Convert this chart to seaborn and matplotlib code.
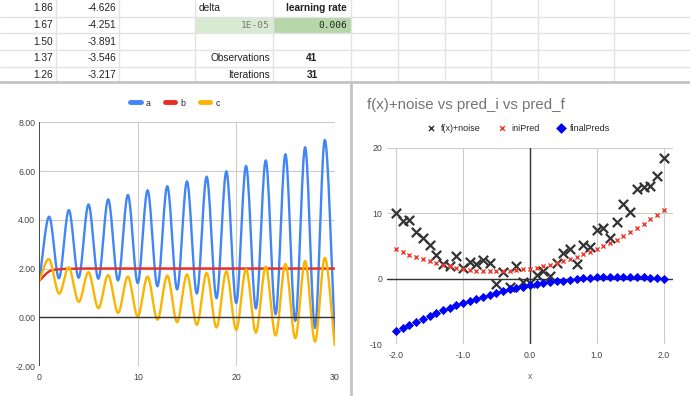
import numpy as np
import pandas as pd
import matplotlib
matplotlib.use('Agg')
import matplotlib.pyplot as plt
import seaborn as sns

# ---- sheet cells ----
col_x = ['1.86', '1.67', '1.50', '1.37', '1.26']
col_y = ['-4.626', '-4.251', '-3.891', '-3.546', '-3.217']
delta = '1E-05'
learning_rate = '0.006'
observations = '41'
iterations = '31'

# ---- left chart: a, b, c per iteration ----
iters = np.arange(31)
a = [1.50, 4.13, 1.60, 4.40, 1.62, 4.63, 1.58, 4.84, 1.51, 5.02, 1.40, 5.21, 1.27, 5.38, 1.14,
     5.58, 0.97, 5.77, 0.78, 5.99, 0.58, 6.21, 0.36, 6.44, 0.12, 6.69, -0.15, 6.98, -0.44, 7.28, -0.72]
b = [1.50, 1.88, 1.97, 1.99, 2.00, 2.00, 2.00, 2.00, 2.00, 2.00, 2.00, 2.00, 2.00, 2.00, 2.00,
     2.00, 2.00, 2.00, 2.00, 2.00, 2.00, 2.00, 2.00, 2.00, 2.00, 2.00, 2.00, 2.00, 2.00, 2.00, 2.00]
c = [1.50, 2.38, 0.97, 2.05, 0.63, 1.85, 0.37, 1.73, 0.18, 1.67, 0.03, 1.67, -0.10, 1.71, -0.20,
     1.76, -0.31, 1.82, -0.42, 1.88, -0.52, 1.97, -0.63, 2.08, -0.75, 2.19, -0.86, 2.31, -1.00, 2.44, -1.14]

# ---- right chart ----
xs = np.round(np.arange(-20, 21) / 10, 1)
noisy = [10.08, 8.80, 8.96, 7.07, 6.16, 5.14, 3.61, 2.24, 1.98, 3.46, 1.58, 2.60, 2.19, 2.85, 2.44,
         -0.76, 1.07, -1.22, 1.98, -0.50, -0.71, 0.53, 1.20, 0.43, 2.36, 3.87, 4.50, 2.26, 5.14, 4.78,
         7.43, 7.68, 6.13, 8.62, 11.40, 10.13, 13.74, 14.05, 14.20, 15.68, 18.48]
ini_pred = [4.53, 4.07, 3.66, 3.31, 2.95, 2.65, 2.34, 2.14, 1.88, 1.68, 1.48, 1.32, 1.22, 1.17, 1.12,
            1.12, 1.12, 1.17, 1.27, 1.42, 1.53, 1.68, 1.88, 2.09, 2.39, 2.65, 2.95, 3.31, 3.72, 4.12,
            4.53, 4.99, 5.45, 5.95, 6.51, 7.12, 7.79, 8.40, 9.11, 9.77, 10.48]
final_preds = [-8.04, -7.58, -7.12, -6.62, -6.16, -5.70, -5.24, -4.83, -4.48, -4.07, -3.77, -3.41, -3.10,
               -2.75, -2.44, -2.19, -1.88, -1.63, -1.42, -1.22, -1.02, -0.87, -0.71, -0.56, -0.41, -0.31,
               -0.15, -0.05, 0.05, 0.15, 0.20, 0.25, 0.30, 0.30, 0.30, 0.30, 0.25, 0.20, 0.15, 0.05, -0.05]

W, H = 690, 396


def smooth(x, y, n=16):
    # catmull-rom, like the sheets "smooth" line option
    x = np.asarray(x, float)
    y = np.asarray(y, float)
    yp = np.concatenate([[2 * y[0] - y[1]], y, [2 * y[-1] - y[-2]]])
    s = np.linspace(0, 1, n, endpoint=False)
    out_x, out_y = [], []
    for j in range(len(x) - 1):
        p0, p1, p2, p3 = yp[j], yp[j + 1], yp[j + 2], yp[j + 3]
        out_y.append(0.5 * (2 * p1 + (-p0 + p2) * s + (2 * p0 - 5 * p1 + 4 * p2 - p3) * s ** 2
                            + (-p0 + 3 * p1 - 3 * p2 + p3) * s ** 3))
        out_x.append(x[j] + (x[j + 1] - x[j]) * s)
    out_x.append([x[-1]])
    out_y.append([y[-1]])
    return np.concatenate(out_x), np.concatenate(out_y)


def px_axes(fig, x0, y0, x1, y1):
    return fig.add_axes([x0 / W, 1 - y1 / H, (x1 - x0) / W, (y1 - y0) / H])


sns.set_style('white')
plt.rcParams['font.family'] = ['Liberation Sans', 'DejaVu Sans']
plt.rcParams['axes.unicode_minus'] = False

fig = plt.figure(figsize=(W / 100, H / 100), dpi=100)

# background with the sheet grid, in pixel coords
bg = fig.add_axes([0, 0, 1, 1], zorder=0)
bg.set_xlim(0, W)
bg.set_ylim(H, 0)
bg.axis('off')
grid_c = '#e2e3e3'
bg.fill_between([195, 273], 16.7, 33.3, color='#d9ead3', lw=0)
bg.fill_between([273, 351], 16.7, 33.3, color='#b6d7a8', lw=0)
for yy in [16.7, 33.3, 50, 66.7]:
    bg.plot([0, W], [yy, yy], color=grid_c, lw=1)
for xx in [56, 119, 195, 273, 351, 398, 445, 491, 538, 614]:
    bg.plot([xx, xx], [0, 82], color=grid_c, lw=1)
bg.plot([0, W], [82, 82], color='#c4c4c4', lw=2)
bg.plot([351, 351], [82, H], color='#c4c4c4', lw=2)

cell_fs = 7.3
row_y = [8.3, 25, 41.7, 58.3, 75]
for yy, v1, v2 in zip(row_y, col_x, col_y):
    bg.text(53, yy, v1, ha='right', va='center', fontsize=cell_fs, color='#222')
    bg.text(116, yy, v2, ha='right', va='center', fontsize=cell_fs, color='#222')
bg.text(199, row_y[0], 'delta', ha='left', va='center', fontsize=cell_fs, color='#222')
bg.text(347, row_y[0], 'learning rate', ha='right', va='center', fontsize=cell_fs,
        color='#222', fontweight='bold')
bg.text(270, row_y[1], delta, ha='right', va='center', fontsize=6.8, color='#777',
        family='DejaVu Sans Mono')
bg.text(347, row_y[1], learning_rate, ha='right', va='center', fontsize=6.8, color='#222',
        family='DejaVu Sans Mono')
bg.text(270, row_y[3], 'Observations', ha='right', va='center', fontsize=cell_fs, color='#222')
bg.text(312, row_y[3], observations, ha='center', va='center', fontsize=cell_fs,
        color='#222', fontweight='bold')
bg.text(270, row_y[4], 'Iterations', ha='right', va='center', fontsize=cell_fs, color='#222')
bg.text(312, row_y[4], iterations, ha='center', va='center', fontsize=cell_fs,
        color='#222', fontweight='bold')

tick_c = '#444444'
grid_line = '#cccccc'
base_c = '#333333'

# ---- left chart ----
ax1 = px_axes(fig, 39.3, 122.3, 334.7, 366)
rows = []
for name, vals in [('a', a), ('b', b), ('c', c)]:
    sx, sy = smooth(iters, vals)
    rows.append(pd.DataFrame({'iter': sx, 'value': sy, 'series': name}))
df_lines = pd.concat(rows, ignore_index=True)
sns.lineplot(data=df_lines, x='iter', y='value', hue='series', sort=False, estimator=None,
             palette={'a': '#4285f4', 'b': '#ea2c22', 'c': '#fbb400'}, lw=1.7, ax=ax1)
ax1.set_xlim(0, 30)
ax1.set_ylim(-2, 8)
ax1.set_yticks(np.arange(-2, 9, 2))
ax1.set_yticklabels(['%.2f' % v for v in np.arange(-2, 9, 2)])
ax1.set_xticks([0, 10, 20, 30])
ax1.grid(True, color=grid_line, lw=0.8)
ax1.axhline(0, color=base_c, lw=1)
ax1.axvline(0, color=base_c, lw=1.2)
ax1.set_xlabel('')
ax1.set_ylabel('')
for sp in ax1.spines.values():
    sp.set_visible(False)
ax1.tick_params(length=0, labelsize=6.3, labelcolor=tick_c, pad=3)
ax1.tick_params(axis='x', pad=5)
sns.move_legend(ax1, 'center', bbox_to_anchor=(175 / W, 1 - 103 / H),
                bbox_transform=fig.transFigure, ncol=3, frameon=False, title=None,
                fontsize=6.3, handlelength=1.2, handletextpad=0.6, columnspacing=1.6)
for line in ax1.get_legend().get_lines():
    line.set_linewidth(3.5)

# ---- right chart ----
ax2 = px_axes(fig, 386.7, 147.7, 673, 344)
sns.scatterplot(x=xs, y=noisy, marker='x', s=45, linewidth=1.6, color='#333333',
                label='f(x)+noise', ax=ax2, zorder=3)
sns.scatterplot(x=xs, y=ini_pred, marker='x', s=9, linewidth=1.0, color='#f2382c',
                label='iniPred', ax=ax2, zorder=4)
sns.scatterplot(x=xs, y=final_preds, marker='D', s=22, linewidth=0, color='#0000ff',
                label='finalPreds', ax=ax2, zorder=5)
ax2.set_xlim(-2.14, 2.14)
ax2.set_ylim(-10, 20)
ax2.set_xticks([-2, -1, 0, 1, 2])
ax2.set_xticklabels(['%.1f' % v for v in [-2, -1, 0, 1, 2]])
ax2.set_yticks([-10, 0, 10, 20])
ax2.grid(True, color=grid_line, lw=0.8)
ax2.axhline(0, color=base_c, lw=1)
ax2.axvline(0, color=base_c, lw=1)
for sp in ax2.spines.values():
    sp.set_visible(False)
ax2.tick_params(length=0, labelsize=6.3, labelcolor=tick_c, pad=3)
ax2.tick_params(axis='x', pad=5)
ax2.set_xlabel('x', fontsize=6.5, color='#666666', labelpad=9)
leg = ax2.legend(loc='center', bbox_to_anchor=(519 / W, 1 - 128 / H), bbox_transform=fig.transFigure,
                 ncol=3, frameon=False, fontsize=6.5, handlelength=0.8, handletextpad=0.6,
                 columnspacing=2.0)
# legend symbols are all drawn small in the original
for handle, size, lw in zip(leg.legend_handles, [14, 12, 30], [1.0, 1.0, 0]):
    handle.set_sizes([size])
    handle.set_linewidth(lw)
fig.text(367 / W, 1 - 105 / H, 'f(x)+noise vs pred_i vs pred_f', ha='left', va='center',
         fontsize=10.8, color='#757575')

fig.savefig('out.png', dpi=100)
